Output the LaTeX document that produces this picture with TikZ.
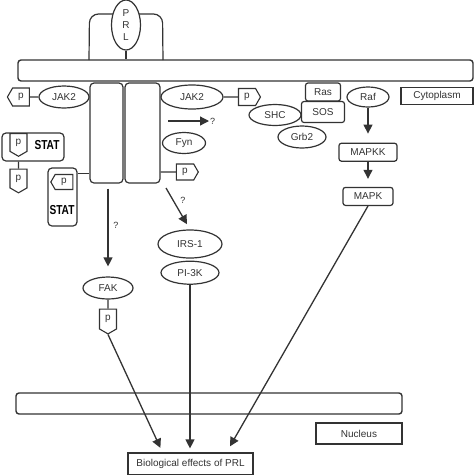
\documentclass[tikz,border=0pt]{standalone}
\usepackage{fontspec}
\setmainfont{Liberation Sans}
\usepackage{tikz}
\usetikzlibrary{arrows.meta,positioning,shapes.geometric,shapes.symbols}
\definecolor{ink}{HTML}{333333}
\newcommand{\statword}{\scalebox{0.78}[1]{\fontsize{13}{13}\selectfont\bfseries STAT}}
\tikzset{
  >={Triangle[length=9pt,width=9pt]},
  flow/.style={->,line width=1.3pt,draw=ink},
  link/.style={line width=1.2pt,draw=ink},
  bar/.style={rounded corners=3pt,draw=ink,line width=1.4pt,fill=white},
  box/.style={rounded corners=2.5pt,draw=ink,line width=1.2pt,fill=white,inner sep=0pt,
    text=ink,font=\fontsize{10}{12}\selectfont},
  sqbox/.style={box,rounded corners=0pt},
  mol/.style={ellipse,draw=ink,line width=1.2pt,fill=white,inner sep=0pt,
    text=ink,font=\fontsize{10}{12}\selectfont},
  ptag/.style={signal,signal pointer angle=120,draw=ink,line width=1.1pt,fill=white,
    inner sep=1pt,text=ink,font=\fontsize{10}{12}\selectfont},
  qmark/.style={inner sep=0pt,text=ink,font=\fontsize{9}{10}\selectfont}
}
\begin{document}
\begin{tikzpicture}[x=1pt,y=-1pt,node distance=7pt]
  \useasboundingbox (0,0) rectangle (474,475);
  % membranes
  \node[bar,minimum width=455pt,minimum height=21pt] (membrane) at (245.5,70.5) {};
  \node[bar,minimum width=386pt,minimum height=21pt] (nucmem) at (209,403.5) {};
  % receptor with PRL
  \draw[link,rounded corners=9pt] (89,60) -- (89.5,14) -- (116,14);
  \draw[link,rounded corners=9pt] (163,60) -- (162.5,14) -- (136,14);
  \node[mol,minimum width=29pt,minimum height=50pt,align=center] (prl) at (126,25) {P\\R\\L};
  \draw[link] (prl.south) -- (prl.south |- membrane.north);
  \node[box,rounded corners=4pt,minimum width=33pt,minimum height=100pt] (recL) at (106.5,133) {};
  \node[box,rounded corners=4pt,minimum width=35pt,minimum height=100pt] (recR) at (142.5,133) {};
  % JAK2 on both sides
  \node[mol,minimum width=50pt,minimum height=22pt] (jakL) at (64,97) {JAK2};
  \node[ptag,signal to=west,minimum width=22pt,minimum height=18pt] (pL) at (21,97) {p};
  \draw[link] (pL) -- (jakL);
  \node[mol,minimum width=62pt,minimum height=24pt] (jakR) at (192,97) {JAK2};
  \node[ptag,signal to=east,minimum width=22pt,minimum height=17pt] (pR) at (247,97) {p};
  \draw[link] (jakR) -- (pR);
  \coordinate (qs) at (168,121);
  \coordinate (qe) at (209,121);
  \draw[flow] (qs) -- (qe);
  \node[qmark,right=1pt of qe] (q1) {?};
  \node[mol,minimum width=43pt,minimum height=21pt] (fyn) at (184,143) {Fyn};
  \node[ptag,signal to=east,minimum width=22pt,minimum height=16pt] (p3) at (185,172) {p};
  \draw[link] (recR.east |- p3) -- (p3);
  % Ras pathway
  \node[mol,minimum width=52pt,minimum height=21pt] (shc) at (275,115) {SHC};
  \node[mol,minimum width=48pt,minimum height=22pt] (grb) at (302,137) {Grb2};
  \node[box,minimum width=35pt,minimum height=18pt] (ras) at (323,92) {Ras};
  \node[box,minimum width=43pt,minimum height=21pt] (sos) at (323,112) {SOS};
  \node[mol,minimum width=42pt,minimum height=20pt] (raf) at (368,97) {Raf};
  \node[sqbox,minimum width=72pt,minimum height=17pt] (cyto) at (437,96) {Cytoplasm};
  \node[box,minimum width=58pt,minimum height=18pt,below=35pt of raf] (mapkk) {MAPKK};
  \node[box,minimum width=50pt,minimum height=18pt,below=25pt of mapkk] (mapk) {MAPK};
  \draw[flow,shorten >=9pt] (raf) -- (mapkk);
  \draw[flow,shorten >=8pt] (mapkk) -- (mapk);
  % STAT
  \node[box,rounded corners=4pt,minimum width=62pt,minimum height=28pt] (stat1) at (33,147) {};
  \node[ptag,signal to=south,minimum width=17pt,minimum height=20pt,anchor=north] (p4) at (18.5,133) {p};
  \node[inner sep=0pt] (stat1t) at (47,145) {\statword};
  \node[ptag,signal to=south,minimum width=17pt,minimum height=21pt] (p5) at (18.5,178.5) {p};
  \draw[link] (stat1.south -| p5) -- (p5);
  \node[box,rounded corners=4pt,minimum width=29pt,minimum height=58pt] (stat2) at (62.5,197) {};
  \node[ptag,signal to=west,minimum width=22pt,minimum height=15pt] (p6) at (64,182) {p};
  \node[inner sep=0pt] (stat2t) at (62,210) {\statword};
  \draw[link] ([yshift=-6pt]stat2.north east) coordinate (s2) -- (s2 -| recL.west);
  % FAK, IRS-1
  \node[mol,minimum width=50pt,minimum height=22pt] (fak) at (108,288) {FAK};
  \node[ptag,signal to=south,minimum width=17pt,minimum height=22pt,below=9pt of fak] (pfak) {p};
  \draw[link] (fak) -- (pfak);
  \draw[flow,shorten <=5pt,shorten >=10pt] (fak.north |- recL.south) -- (fak.north);
  \node[qmark] (q2) at (116,225) {?};
  \node[mol,minimum width=64pt,minimum height=28pt] (irs) at (190,244) {IRS-1};
  \node[mol,minimum width=58pt,minimum height=23pt,below=2pt of irs] (pi3k) {PI-3K};
  \coordinate (d2) at (166,188);
  \draw[flow,shorten >=6pt] (d2) -- (irs.north);
  \node[qmark] (q3) at (183,200) {?};
  % nucleus
  \node[sqbox,minimum width=86pt,minimum height=21pt] (nucleus) at (359,433.5) {Nucleus};
  \node[sqbox,minimum width=125pt,minimum height=22pt] (bio) at (190.5,464) {Biological effects of PRL};
  \draw[flow,shorten >=5pt] (pfak.south) -- ([xshift=-28pt]bio.north);
  \draw[flow,shorten >=4pt] (pi3k.south) -- (pi3k.south |- bio.north);
  \draw[flow,shorten >=7pt] (mapk.south) -- ([xshift=36pt]bio.north);
\end{tikzpicture}
\end{document}
